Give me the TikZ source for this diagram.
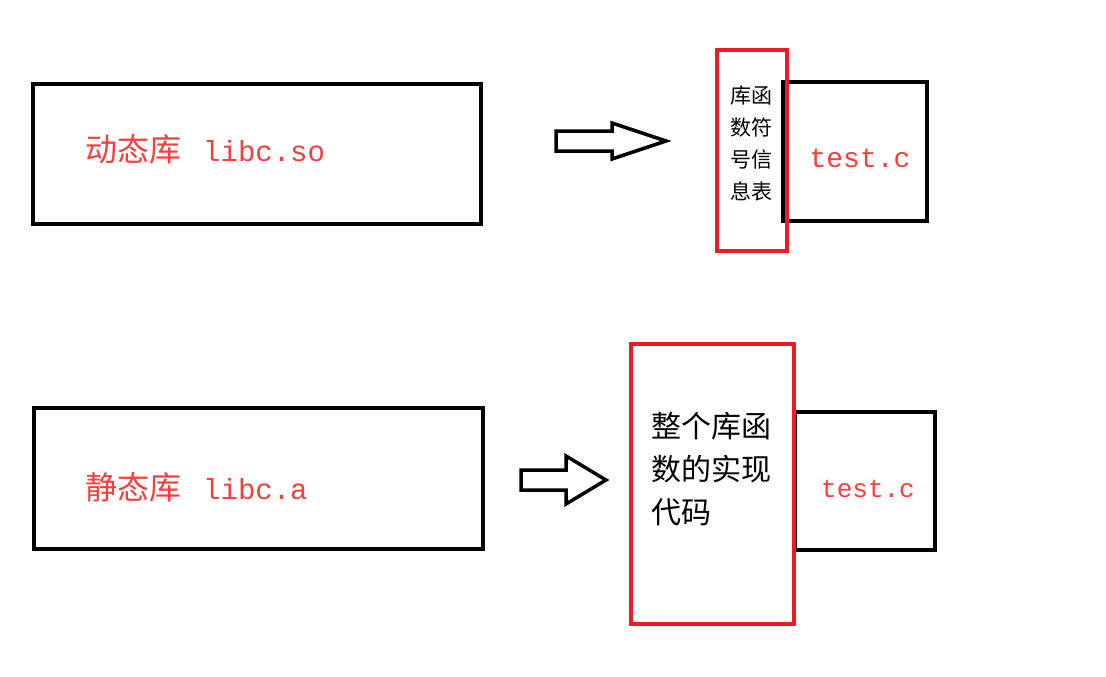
\documentclass[tikz,border=0pt]{standalone}
\usepackage{fontspec}
\newfontfamily\cjk{Noto Sans CJK SC}
\newfontfamily\mono{Liberation Mono}
\definecolor{rbox}{RGB}{237,28,36}
\definecolor{rtxt}{RGB}{250,60,60}
\begin{document}
\begin{tikzpicture}[x=1pt,y=-1pt,
  bbox/.style={draw=black,line width=4pt},
  redbox/.style={draw=rbox,line width=4pt},
  harrow/.style={draw=black,line width=3.5pt,line join=miter}]
\useasboundingbox (0,0) rectangle (1106,677);
% top
\draw[bbox] (33,84) rectangle (481,224);
\node[anchor=west,text=rtxt,inner sep=0] (t1) at (85,149) {\fontsize{32}{34}\selectfont\cjk 动态库\hspace{22pt}\fontsize{29}{30}\selectfont\mono libc.so};
\draw[harrow] (556,131) -- (612,131) -- (612,123) -- (666,141) -- (612,159) -- (612,151) -- (556,151) -- cycle;
\draw[bbox] (783,82) rectangle (927,221);
\draw[redbox] (717,50) rectangle (787,251);
\draw[black,line width=1.5pt] (783,82) -- (783,221);
\node[align=center,inner sep=0,font=\fontsize{21}{32}\selectfont\cjk] (s1) at (751,144) {库函\\数符\\号信\\息表};
\node[text=rtxt,inner sep=0,font=\fontsize{28}{30}\selectfont\mono] (c1) at (860,158) {test.c};
% bottom
\draw[bbox] (34,408) rectangle (483,549);
\node[anchor=west,text=rtxt,inner sep=0] (t2) at (85,487) {\fontsize{32}{34}\selectfont\cjk 静态库\hspace{22pt}\fontsize{29}{30}\selectfont\mono libc.a};
\draw[harrow] (521,470) -- (566,470) -- (566,456) -- (606,480) -- (566,504) -- (566,490) -- (521,490) -- cycle;
\draw[bbox] (795,412) rectangle (935,550);
\draw[redbox] (631,344) rectangle (794,624);
\node[anchor=north west,align=left,inner sep=0,font=\fontsize{30}{43}\selectfont\cjk] (s2) at (651,412) {整个库函\\数的实现\\代码};
\node[text=rtxt,inner sep=0,font=\fontsize{26}{28}\selectfont\mono] (c2) at (868,489) {test.c};
\end{tikzpicture}
\end{document}
